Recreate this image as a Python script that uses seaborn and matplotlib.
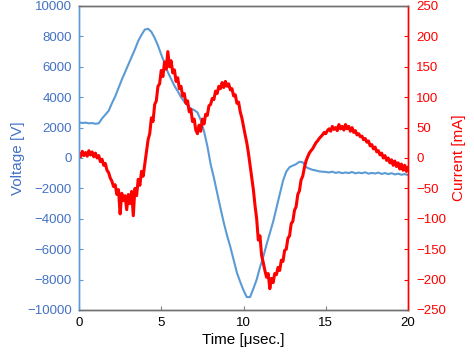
import numpy as np
import pandas as pd
import seaborn as sns
import matplotlib.pyplot as plt

volt_time = [round(0.2 * i, 1) for i in range(101)]
voltage = [
    2350, 2300, 2330, 2280, 2300, 2250, 2280, 2600, 2850, 3100,
    3600, 4050, 4600, 5150, 5650, 6150, 6650, 7150, 7700, 8100,
    8450, 8500, 8300, 7900, 7400, 6800, 6250, 5650, 5200, 4750,
    4400, 4000, 3700, 3450, 3250, 3150, 3000, 2500, 1750, 800,
    -400, -1300, -2300, -3300, -4250, -5100, -5850, -6700, -7550, -8150,
    -8700, -9150, -9150, -8600, -8000, -7200, -6500, -5700, -4950, -4200,
    -3300, -2400, -1500, -900, -600, -500, -400, -250, -280, -600,
    -700, -780, -820, -880, -900, -920, -950, -900, -980, -930,
    -1000, -950, -990, -920, -1010, -960, -1000, -940, -1030, -980,
    -1020, -960, -1050, -990, -1060, -1000, -1080, -1030, -1100, -1060,
    -1120,
]

curr_time = [round(0.1 * i, 1) for i in range(201)]
current = [
    8, 2, 11, 4, 9, 3, 12, 5, 10, 2,
    8, 0, 4, -6, -2, -12, -9, -20, -24, -33,
    -38, -47, -44, -60, -52, -92, -58, -70, -62, -85,
    -60, -75, -55, -95, -50, -62, -35, -45, -22, -30,
    -10, 10, 30, 40, 66, 60, 88, 94, 118, 122,
    144, 134, 158, 146, 175, 150, 160, 140, 145, 126,
    132, 114, 118, 102, 106, 90, 94, 76, 80, 60,
    64, 46, 40, 54, 44, 64, 56, 72, 70, 86,
    88, 98, 96, 110, 106, 118, 114, 124, 116, 126,
    118, 122, 112, 114, 102, 104, 90, 92, 76, 66,
    52, 38, 25, 8, -12, -31, -52, -78, -100, -135,
    -128, -160, -172, -185, -196, -190, -215, -198, -205, -190,
    -192, -180, -185, -168, -170, -152, -150, -132, -128, -108,
    -104, -86, -80, -60, -54, -36, -30, -16, -5, 2,
    8, 12, 15, 20, 25, 28, 32, 35, 38, 42,
    40, 45, 48, 44, 52, 47, 50, 45, 55, 48,
    52, 46, 55, 48, 52, 44, 50, 42, 45, 38,
    40, 35, 36, 30, 32, 26, 28, 20, 22, 15,
    18, 10, 12, 5, 8, 0, 4, -4, 0, -8,
    -3, -12, -5, -14, -8, -18, -10, -20, -12, -22,
    -15,
]

x_ticks = [0, 5, 10, 15, 20]
v_ticks = list(range(-10000, 10001, 2000))
i_ticks = list(range(-250, 251, 50))

blue_line = '#5B9BD5'
blue_text = '#4472C4'
red = '#FF0000'

sns.set_style("white")
plt.rcParams['font.family'] = ['Liberation Sans', 'DejaVu Sans']

df_v = pd.DataFrame({'t': volt_time, 'v': voltage})
df_i = pd.DataFrame({'t': curr_time, 'i': current})

fig = plt.figure(figsize=(4.74, 3.56), dpi=100)
ax = fig.add_axes([79 / 474, 1 - 310 / 356, 329 / 474, 304 / 356])
ax2 = ax.twinx()

sns.lineplot(data=df_v, x='t', y='v', ax=ax, color=blue_line, linewidth=1.5,
             estimator=None, sort=False)
sns.lineplot(data=df_i, x='t', y='i', ax=ax2, color=red, linewidth=2.2,
             estimator=None, sort=False)

ax.set_xlim(0, 20)
ax.set_ylim(-10000, 10000)
ax2.set_ylim(-250, 250)
ax.set_xticks(x_ticks)
ax.set_yticks(v_ticks)
ax2.set_yticks(i_ticks)

ax.set_xlabel('Time [μsec.]', fontsize=11, color='black', labelpad=3)
ax.set_ylabel('Voltage [V]', fontsize=11, color=blue_text, labelpad=2)
ax2.set_ylabel('Current [mA]', fontsize=11, color=red, labelpad=4)

ax.tick_params(axis='x', direction='in', length=3, pad=5, labelsize=9.5,
               colors='#808080', labelcolor='black', bottom=True)
ax.tick_params(axis='y', direction='in', length=3, pad=5, labelsize=9.5,
               colors=blue_line, labelcolor=blue_text, left=True)
ax2.tick_params(axis='y', direction='in', length=3, pad=6, labelsize=9.5,
                colors=red, labelcolor=red, right=True)

for a in (ax, ax2):
    a.spines['top'].set_color('#707070')
    a.spines['bottom'].set_color('#707070')
    a.spines['left'].set_color(blue_line)
    a.spines['right'].set_color(red)
    for s in a.spines.values():
        s.set_linewidth(1.0)

fig.savefig('out.png', dpi=100)
